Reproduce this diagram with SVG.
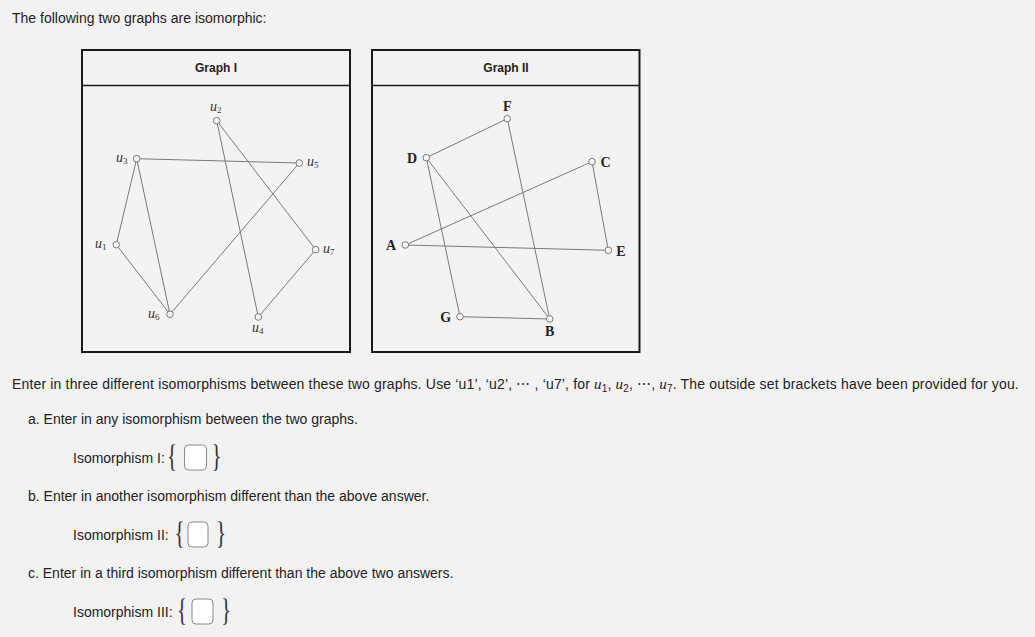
<svg xmlns="http://www.w3.org/2000/svg" width="1035" height="637" viewBox="0 0 1035 637">
<style>
  .t{font-family:"Liberation Sans",Arial,sans-serif;font-size:14px;fill:#222}
  .title{font-family:"Liberation Sans",Arial,sans-serif;font-size:12px;font-weight:bold;fill:#222;text-anchor:middle}
  .panel{fill:#f3f3f3;stroke:#1a1a1a;stroke-width:2}
  .div{stroke:#1a1a1a;stroke-width:1.5}
  .edge{stroke:#7a7a7a;stroke-width:1;fill:none}
  .node{fill:#f7f7f7;stroke:#7a7a7a;stroke-width:1}
  .ml{font-family:"Liberation Serif","Times New Roman",serif;font-style:italic;font-size:14px;fill:#333}
  .sub{font-size:9px;font-style:normal}
  .bl{font-family:"Liberation Serif","Times New Roman",serif;font-weight:bold;font-size:14px;fill:#222}
  .mi{font-family:"Liberation Serif","Times New Roman",serif;font-style:italic;font-size:15px}
  .brace{font-family:"Liberation Serif","Times New Roman",serif;font-size:28px;fill:#333}
  .box{fill:#ffffff;stroke:#8a8a8a;stroke-width:1}
</style>
<rect x="0" y="0" width="1035" height="637" fill="#f2f2f2"/>
<text class="t" x="12" y="23">The following two graphs are isomorphic:</text>

<!-- Graph I panel -->
<g id="panel1">
  <rect class="panel" x="82" y="50" width="268" height="302"/>
  <line class="div" x1="82" y1="85.5" x2="350" y2="85.5"/>
  <text class="title" x="216" y="72">Graph I</text>
</g>
<g id="edges1">
  <line class="edge" x1="136.7" y1="158.7" x2="299.3" y2="163"/>
  <line class="edge" x1="136.7" y1="158.7" x2="116.3" y2="244.7"/>
  <line class="edge" x1="136.7" y1="158.7" x2="170" y2="314.3"/>
  <line class="edge" x1="116.3" y1="244.7" x2="170" y2="314.3"/>
  <line class="edge" x1="170" y1="314.3" x2="299.3" y2="163"/>
  <line class="edge" x1="216.7" y1="120.7" x2="258.3" y2="317"/>
  <line class="edge" x1="216.7" y1="120.7" x2="315.7" y2="249.7"/>
  <line class="edge" x1="315.7" y1="249.7" x2="258.3" y2="317"/>
</g>
<g id="u1"><circle class="node" cx="116.3" cy="244.7" r="3.3"/><text class="ml" x="95" y="248">u<tspan class="sub" dy="2">1</tspan></text></g>
<g id="u2"><circle class="node" cx="216.7" cy="120.7" r="3.3"/><text class="ml" x="210" y="111">u<tspan class="sub" dy="2">2</tspan></text></g>
<g id="u3"><circle class="node" cx="136.7" cy="158.7" r="3.3"/><text class="ml" x="116" y="162">u<tspan class="sub" dy="2">3</tspan></text></g>
<g id="u4"><circle class="node" cx="258.3" cy="317" r="3.3"/><text class="ml" x="252" y="332">u<tspan class="sub" dy="2">4</tspan></text></g>
<g id="u5"><circle class="node" cx="299.3" cy="163" r="3.3"/><text class="ml" x="307" y="166">u<tspan class="sub" dy="2">5</tspan></text></g>
<g id="u6"><circle class="node" cx="170" cy="314.3" r="3.3"/><text class="ml" x="148" y="318">u<tspan class="sub" dy="2">6</tspan></text></g>
<g id="u7"><circle class="node" cx="315.7" cy="249.7" r="3.3"/><text class="ml" x="323" y="253">u<tspan class="sub" dy="2">7</tspan></text></g>

<!-- Graph II panel -->
<g id="panel2">
  <rect class="panel" x="372" y="50" width="267.5" height="302"/>
  <line class="div" x1="372" y1="85.5" x2="639.5" y2="85.5"/>
  <text class="title" x="506" y="72">Graph II</text>
</g>
<g id="edges2">
  <line class="edge" x1="426.3" y1="157.7" x2="507.3" y2="118.7"/>
  <line class="edge" x1="507.3" y1="118.7" x2="549.7" y2="319"/>
  <line class="edge" x1="426.3" y1="157.7" x2="549.7" y2="319"/>
  <line class="edge" x1="426.3" y1="157.7" x2="460" y2="316.7"/>
  <line class="edge" x1="460" y1="316.7" x2="549.7" y2="319"/>
  <line class="edge" x1="405.3" y1="245" x2="592" y2="161.7"/>
  <line class="edge" x1="592" y1="161.7" x2="608.3" y2="250.3"/>
  <line class="edge" x1="405.3" y1="245" x2="608.3" y2="250.3"/>
</g>
<g id="A"><circle class="node" cx="405.3" cy="245" r="3.3"/><text class="bl" x="391" y="250" text-anchor="middle">A</text></g>
<g id="B"><circle class="node" cx="549.7" cy="319" r="3.3"/><text class="bl" x="549.7" y="336" text-anchor="middle">B</text></g>
<g id="C"><circle class="node" cx="592" cy="161.7" r="3.3"/><text class="bl" x="605.5" y="166.5" text-anchor="middle">C</text></g>
<g id="D"><circle class="node" cx="426.3" cy="157.7" r="3.3"/><text class="bl" x="412" y="162.5" text-anchor="middle">D</text></g>
<g id="E"><circle class="node" cx="608.3" cy="250.3" r="3.3"/><text class="bl" x="621" y="255.5" text-anchor="middle">E</text></g>
<g id="F"><circle class="node" cx="507.3" cy="118.7" r="3.3"/><text class="bl" x="507.3" y="111" text-anchor="middle">F</text></g>
<g id="G"><circle class="node" cx="460" cy="316.7" r="3.3"/><text class="bl" x="445.7" y="321.5" text-anchor="middle">G</text></g>

<!-- Question text -->
<text class="t" x="12" y="389" letter-spacing="0.16">Enter in three different isomorphisms between these two graphs. Use ‘u1’, ‘u2’, ⋯ , ‘u7’, for <tspan class="mi">u</tspan><tspan font-size="10" dy="3">1</tspan><tspan dy="-3">, </tspan><tspan class="mi">u</tspan><tspan font-size="10" dy="3">2</tspan><tspan dy="-3">, ⋯, </tspan><tspan class="mi">u</tspan><tspan font-size="10" dy="3">7</tspan><tspan dy="-3">. The outside set brackets have been provided for you.</tspan></text>
<text class="t" x="28" y="424">a. Enter in any isomorphism between the two graphs.</text>
<g id="iso1">
  <text class="t" x="73" y="463">Isomorphism I:</text>
  <text class="brace" transform="translate(167,467) scale(0.75,1.1)">{</text>
  <rect class="box" x="184.5" y="445" width="22" height="25" rx="4"/>
  <text class="brace" transform="translate(211.5,467) scale(0.75,1.1)">}</text>
</g>
<text class="t" x="28" y="501">b. Enter in another isomorphism different than the above answer.</text>
<g id="iso2">
  <text class="t" x="73" y="540">Isomorphism II:</text>
  <text class="brace" transform="translate(174.5,544) scale(0.75,1.1)">{</text>
  <rect class="box" x="188" y="522" width="20" height="25" rx="4"/>
  <text class="brace" transform="translate(216,544) scale(0.75,1.1)">}</text>
</g>
<text class="t" x="28" y="578">c. Enter in a third isomorphism different than the above two answers.</text>
<g id="iso3">
  <text class="t" x="73" y="617">Isomorphism III:</text>
  <text class="brace" transform="translate(177,621) scale(0.75,1.1)">{</text>
  <rect class="box" x="192" y="599" width="21" height="25" rx="4"/>
  <text class="brace" transform="translate(221,621) scale(0.75,1.1)">}</text>
</g>
</svg>
